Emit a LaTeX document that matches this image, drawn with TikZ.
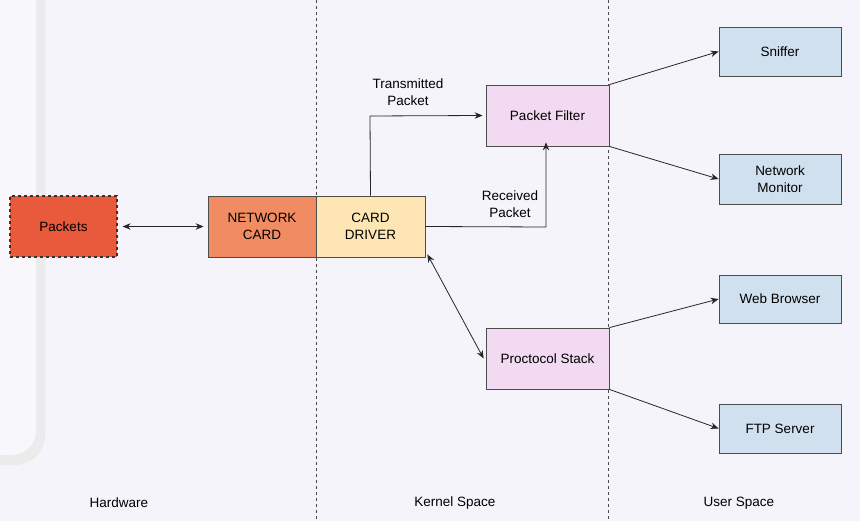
\documentclass[tikz,border=0pt]{standalone}
\usepackage{fontspec}
\setmainfont{Liberation Sans}
\usetikzlibrary{arrows.meta}
\definecolor{bg}{HTML}{F4F4FA}
\definecolor{pk}{HTML}{E9593C}
\definecolor{nc}{HTML}{F08B62}
\definecolor{cd}{HTML}{FEE6B4}
\definecolor{pf}{HTML}{F2DAF2}
\definecolor{us}{HTML}{D0E0EE}
\begin{document}
\begin{tikzpicture}[x=1pt,y=-1pt,font=\fontsize{13.5}{16.5}\selectfont,
 box/.style={draw=black!70,line width=0.8pt,minimum width=#1,align=center,inner sep=1pt},
 arr/.style={-{Stealth[length=8pt,width=6.5pt]},line width=0.8pt,draw=black!85},
 darr/.style={{Stealth[length=8pt,width=6.5pt]}-{Stealth[length=8pt,width=6.5pt]},line width=0.8pt,draw=black!85},
 sep/.style={dashed,draw=black!70,line width=0.8pt}]
\useasboundingbox (0,0) rectangle (860,521);
\fill[bg] (0,0) rectangle (860,521);
\fill[black!8,rounded corners=30pt] (-40,-40) rectangle (45,465);
\fill[bg!60!white,rounded corners=24pt] (-40,-40) rectangle (36,455);
\draw[sep] (316,0) -- (316,521);
\draw[sep] (608,0) -- (608,521);
\node[box=107pt,minimum height=61pt,fill=pk,dashed,draw=black!80,line width=1.2pt] (pkt) at (63.5,226.5) {Packets};
\node[box=108pt,minimum height=61pt,fill=nc] (nc) at (262,226.5) {NETWORK\\CARD};
\node[box=109pt,minimum height=61pt,fill=cd] (cd) at (370.5,226.5) {CARD\\DRIVER};
\node[box=123pt,minimum height=61pt,fill=pf] (pf) at (547.5,115.5) {Packet Filter};
\node[box=123pt,minimum height=61pt,fill=pf] (ps) at (547.5,358.5) {Proctocol Stack};
\node[box=122pt,minimum height=49pt,fill=us] (sn) at (780,51.5) {Sniffer};
\node[box=122pt,minimum height=50pt,fill=us] (nm) at (780,179) {Network\\Monitor};
\node[box=122pt,minimum height=48pt,fill=us] (wb) at (780,299) {Web Browser};
\node[box=122pt,minimum height=49pt,fill=us] (ftp) at (780,428.5) {FTP Server};
\draw[darr] ([xshift=5pt]pkt.east) -- ([xshift=-4pt]nc.west);
\coordinate (c1) at (370,116);
\draw[arr] (cd.north) -- (c1) -- ([xshift=-3pt]pf.west);
\node[align=center] (t1) at (408,92) {Transmitted\\Packet};
\coordinate (c2) at (546,227);
\draw[arr] (cd.east) -- (c2) -- ([yshift=4pt]pf.south -| c2);
\node[align=center] (t2) at (510,204) {Received\\Packet};
\draw[darr] ([shift={(2pt,3pt)}]cd.south east) -- ([xshift=-2pt]ps.west);
\draw[arr] (pf.north east) -- (sn.west);
\draw[arr] (pf.south east) -- (nm.west);
\draw[arr] (ps.north east) -- (wb.west);
\draw[arr] (ps.south east) -- (ftp.west);
\node (h) at (119,503) {Hardware};
\node (k) at (455,503) {Kernel Space};
\node (u) at (739,503) {User Space};
\end{tikzpicture}
\end{document}
